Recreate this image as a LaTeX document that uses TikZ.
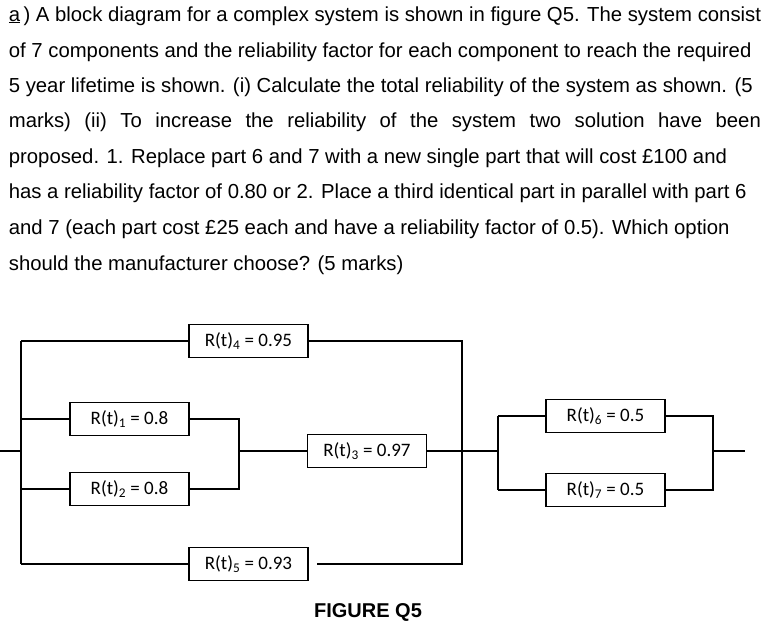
\documentclass[tikz,border=0pt]{standalone}
\usepackage{fontspec}
\setmainfont{Liberation Sans}
\newfontfamily\boxfont{Carlito}
\begin{document}
\begin{tikzpicture}[x=1pt,y=-1pt,line width=1.8pt,
  blk/.style={draw,minimum width=119pt,minimum height=33pt,inner sep=0pt,font=\boxfont\fontsize{19}{21}\selectfont},
  para/.style={anchor=base west,inner sep=0pt,font=\fontsize{20.3}{23}\selectfont}]
\useasboundingbox (0,0) rectangle (775,630);
\node[para] (l1) at (8,21) {\underline{a}\,) A block diagram for a complex system is shown in figure Q5. The system consist};
\node[para] (l2) at (8,57) {of 7 components and the reliability factor for each component to reach the required};
\node[para] (l3) at (8,92) {5 year lifetime is shown. (i) Calculate the total reliability of the system as shown. (5};
\node[para] (l4) at (8,127) {\hbox to 752pt{marks)\hfill(ii)\hfill To\hfill increase\hfill the\hfill reliability\hfill of\hfill the\hfill system\hfill two\hfill solution\hfill have\hfill been}};
\node[para] (l5) at (8,163) {proposed. 1. Replace part 6 and 7 with a new single part that will cost £100 and};
\node[para] (l6) at (8,198) {has a reliability factor of 0.80 or 2. Place a third identical part in parallel with part 6};
\node[para] (l7) at (8,234) {and 7 (each part cost £25 each and have a reliability factor of 0.5). Which option};
\node[para] (l8) at (8,270) {should the manufacturer choose? (5 marks)};

\node[blk] (b4) at (248.5,341) {R(t)\textsubscript{4} = 0.95};
\node[blk] (b1) at (129.5,419) {R(t)\textsubscript{1} = 0.8};
\node[blk] (b2) at (129.5,489) {R(t)\textsubscript{2} = 0.8};
\node[blk] (b3) at (367,451) {R(t)\textsubscript{3} = 0.97};
\node[blk] (b5) at (248.5,564) {R(t)\textsubscript{5} = 0.93};
\node[blk] (b6) at (605.5,416) {R(t)\textsubscript{6} = 0.5};
\node[blk] (b7) at (605.5,490) {R(t)\textsubscript{7} = 0.5};
\node[font=\bfseries\fontsize{20}{22}\selectfont] (fig) at (368,612) {FIGURE Q5};

\coordinate (in) at (0,451);
\coordinate (L) at (21,451);
\coordinate (J) at (239,451);
\coordinate (R) at (462,451);
\coordinate (K) at (498,451);
\coordinate (M) at (713,451);
\coordinate (out) at (745,451);

\draw (in) -- (L);
\draw (L |- b4) -- (L |- b5);
\draw (L |- b4) -- (b4.west);
\draw (b4.east) -- (R |- b4) -- (R |- b5) -- ([xshift=8pt]b5.east);
\draw (L |- b5) -- (b5.west);
\draw (L |- b1) -- (b1.west);
\draw (L |- b2) -- (b2.west);
\draw (b1.east) -- (J |- b1) -- (J |- b2) -- (b2.east);
\draw (J) -- (b3.west);
\draw (b3.east) -- (R) -- (K);
\draw (K |- b6) -- (K |- b7);
\draw (K |- b6) -- (b6.west);
\draw (K |- b7) -- (b7.west);
\draw (b6.east) -- (M |- b6) -- (M |- b7) -- (b7.east);
\draw (M) -- (out);
\end{tikzpicture}
\end{document}
